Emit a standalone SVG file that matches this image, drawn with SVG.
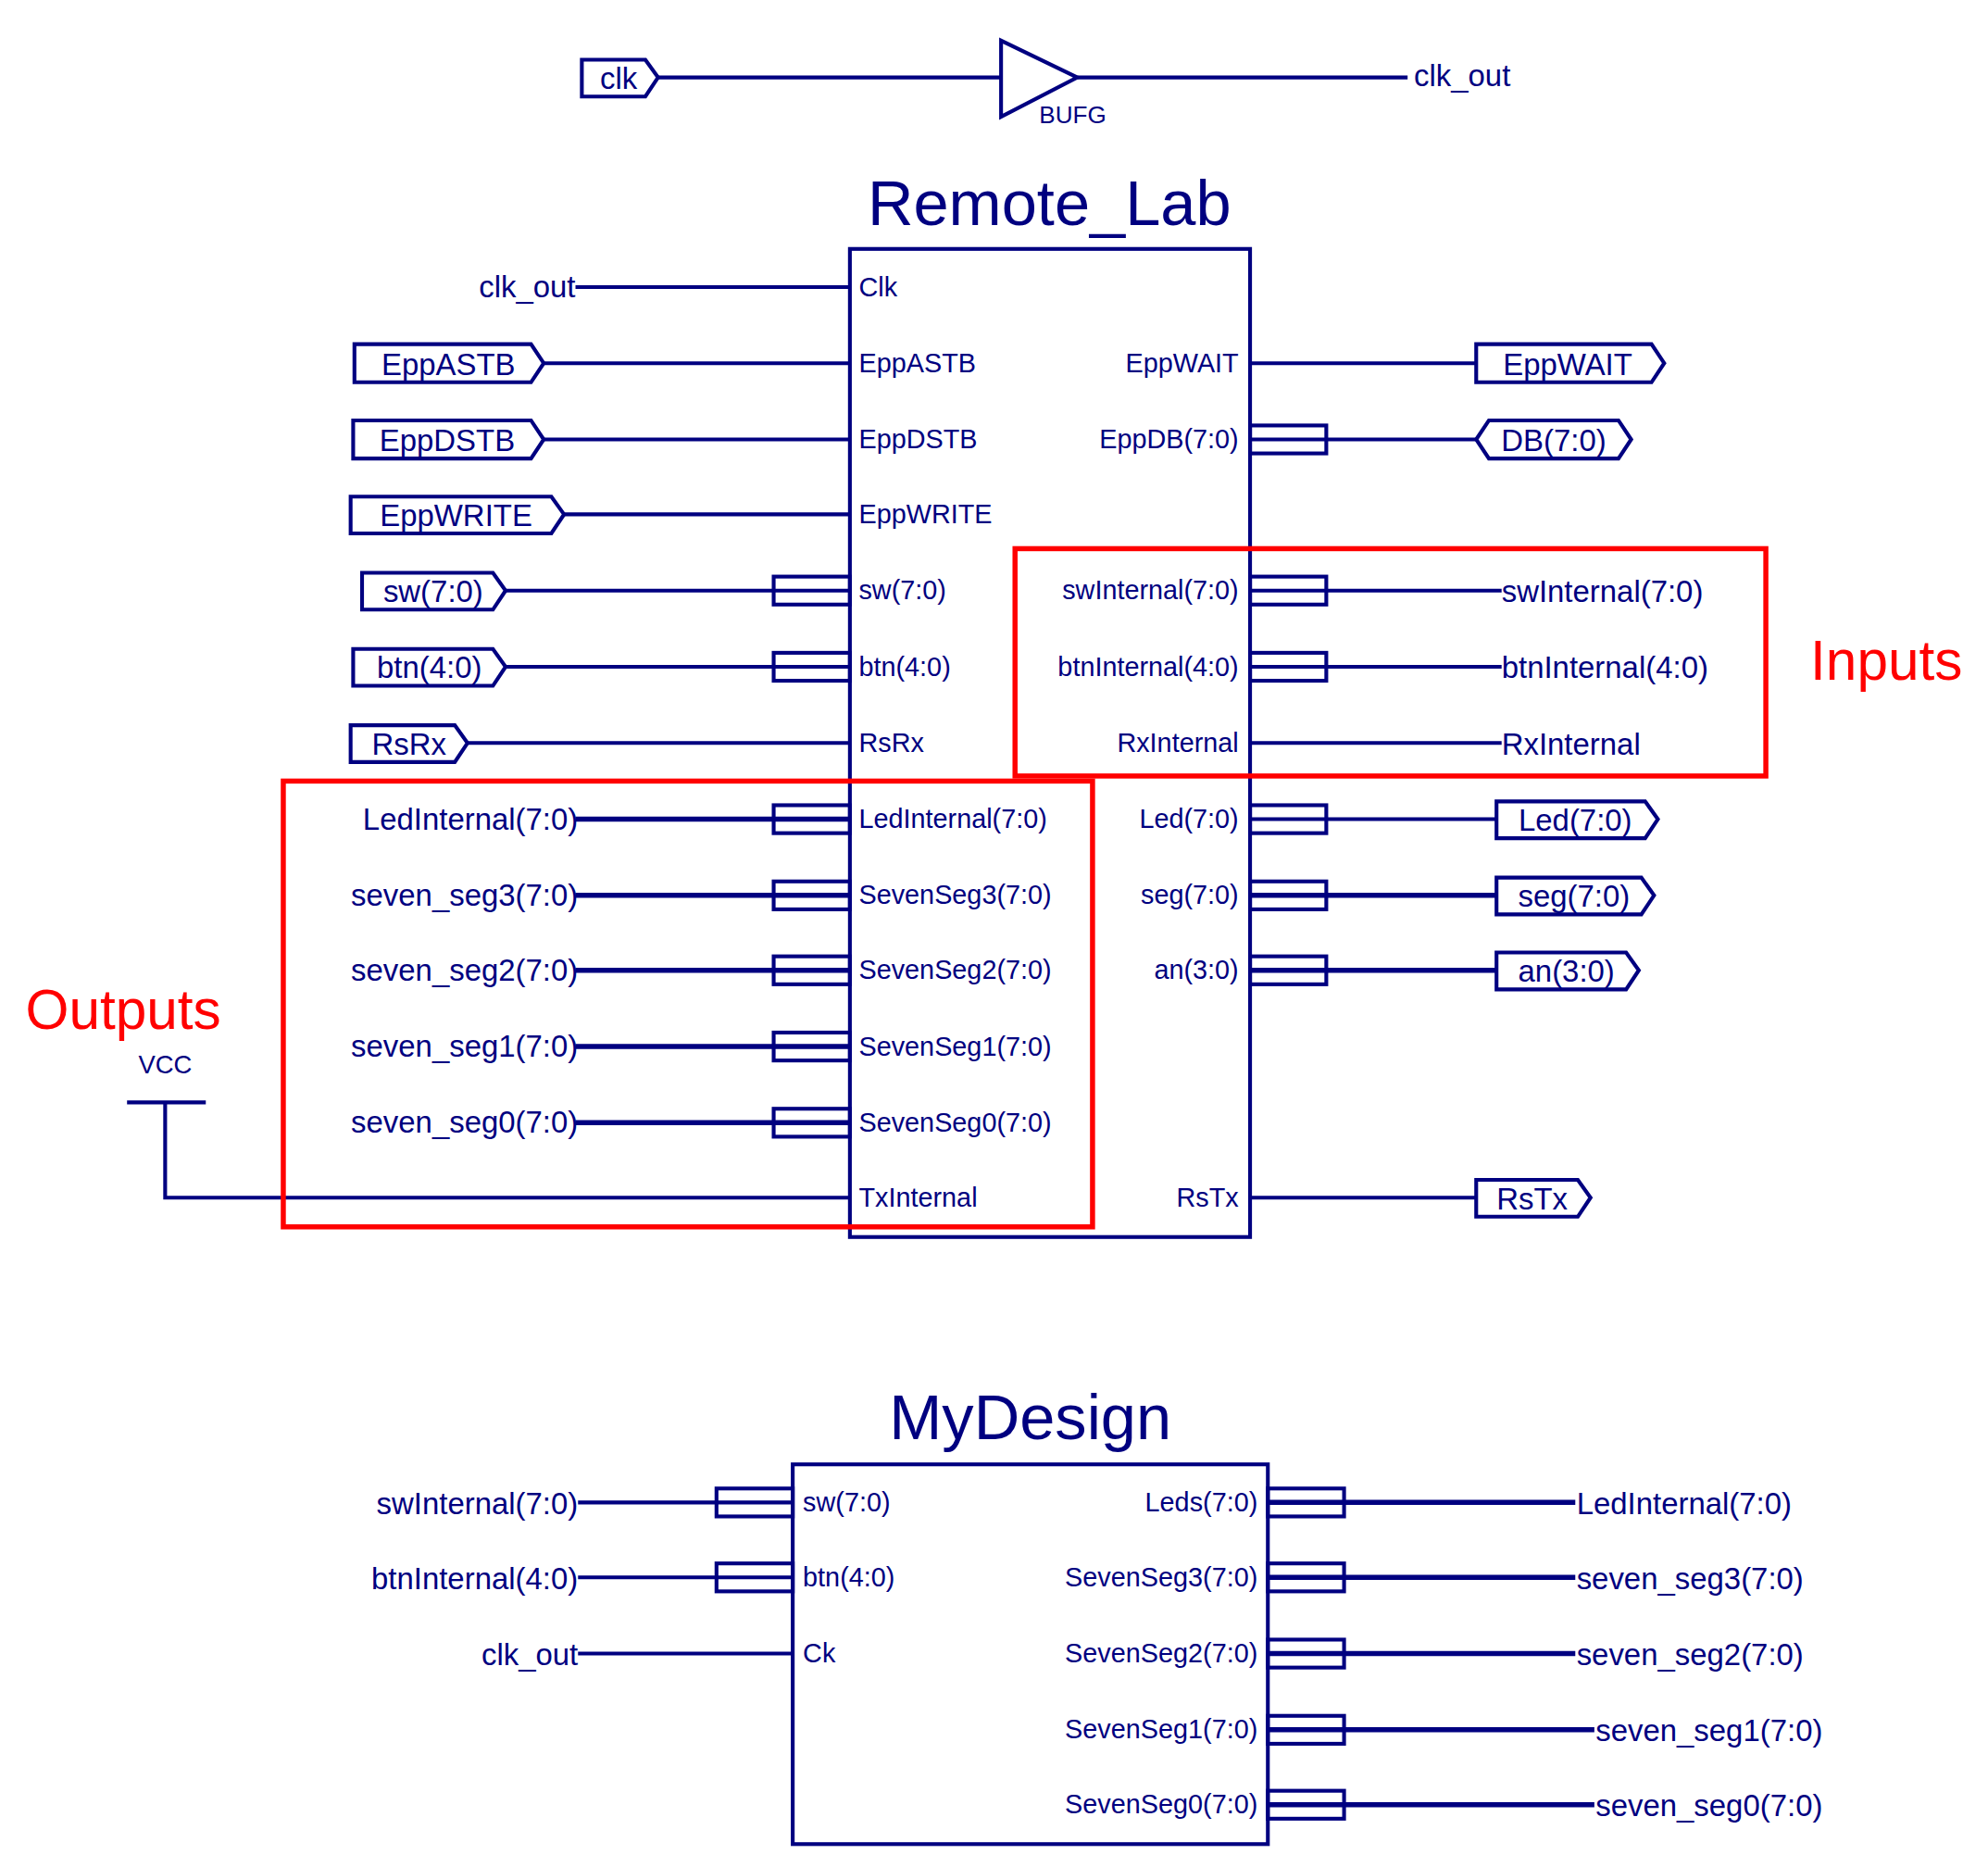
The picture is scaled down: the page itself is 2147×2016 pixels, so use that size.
<svg xmlns="http://www.w3.org/2000/svg" width="2147" height="2016" viewBox="0 0 2147 2016">
<style>
.w{stroke:#000080;stroke-width:3;fill:none}
.b{stroke:#000080;stroke-width:4;fill:none}
.p{stroke:#000080;stroke-width:3;fill:#fff}
.r{stroke:#ff0000;stroke-width:4;fill:none}
text{font-family:"Liberation Sans",Arial,sans-serif;fill:#000080}
.pin{font-size:21px}
.net{font-size:24px}
.ttl{font-size:50px}
.red{font-size:44px;fill:#ff0000}
.e{text-anchor:end}
.m{text-anchor:middle}
</style>
<rect width="2147" height="2016" fill="#fff"/>
<g transform="scale(1.372,1.3714)">
<g id="connectors">
<path class="w" d="M518 61H788M848 61H1108"/>
<path class="w" d="M453 226H669M428 286H669M428 346H669M444 405H669M398 465H669M398 525H669M368 585H669"/>
<path class="b" d="M453 645H669M453 705H669M453 764H669M453 824H669M453 884H669"/>
<path class="w" d="M100 868H162M130 868V943H669"/>
<path class="w" d="M984 286H1162M984 346H1162M984 465H1182M984 525H1182M984 585H1182M984 645H1178M984 943H1162"/>
<path class="b" d="M984 705H1178M984 764H1178"/>
<path class="w" d="M455 1183H624M455 1242H624M455 1302H624"/>
<path class="b" d="M998 1183H1240M998 1242H1240M998 1302H1240M998 1362H1255M998 1421H1255"/>
</g>
<g id="bufg">
<polygon class="p" points="788,32 788,92 848,61"/>
<text x="818" y="97" style="font-size:19px">BUFG</text>
</g>
<g id="clk"><polygon class="p" points="458,47 508,47 518,61 508,76 458,76"/><text class="net m" x="487" y="70">clk</text></g>
<text class="net" x="1113" y="68">clk_out</text>
<g id="remote_lab">
<text class="ttl m" x="826" y="177">Remote_Lab</text>
<rect class="w" x="669" y="196" width="315" height="778"/>
<g class="pin">
<text x="676" y="233">Clk</text><text x="676" y="293">EppASTB</text><text x="676" y="353">EppDSTB</text><text x="676" y="412">EppWRITE</text>
<text x="676" y="472">sw(7:0)</text><text x="676" y="532">btn(4:0)</text><text x="676" y="592">RsRx</text>
<text x="676" y="652">LedInternal(7:0)</text><text x="676" y="712">SevenSeg3(7:0)</text><text x="676" y="771">SevenSeg2(7:0)</text>
<text x="676" y="831">SevenSeg1(7:0)</text><text x="676" y="891">SevenSeg0(7:0)</text><text x="676" y="950">TxInternal</text>
<text class="e" x="975" y="293">EppWAIT</text><text class="e" x="975" y="353">EppDB(7:0)</text><text class="e" x="975" y="472">swInternal(7:0)</text>
<text class="e" x="975" y="532">btnInternal(4:0)</text><text class="e" x="975" y="592">RxInternal</text><text class="e" x="975" y="652">Led(7:0)</text>
<text class="e" x="975" y="712">seg(7:0)</text><text class="e" x="975" y="771">an(3:0)</text><text class="e" x="975" y="950">RsTx</text>
</g>
<g class="w">
<rect x="609" y="454" width="60" height="22"/><rect x="609" y="514" width="60" height="22"/><rect x="609" y="634" width="60" height="22"/>
<rect x="609" y="694" width="60" height="22"/><rect x="609" y="753" width="60" height="22"/><rect x="609" y="813" width="60" height="22"/><rect x="609" y="873" width="60" height="22"/>
<rect x="984" y="335" width="60" height="22"/><rect x="984" y="454" width="60" height="22"/><rect x="984" y="514" width="60" height="22"/>
<rect x="984" y="634" width="60" height="22"/><rect x="984" y="694" width="60" height="22"/><rect x="984" y="753" width="60" height="22"/>
</g>
</g>
<g id="ports_left">
<polygon class="p" points="279,271 418,271 428,286 418,301 279,301"/><text class="net m" x="353" y="295">EppASTB</text>
<polygon class="p" points="278,331 418,331 428,346 418,361 278,361"/><text class="net m" x="352" y="355">EppDSTB</text>
<polygon class="p" points="276,391 434,391 444,405 434,420 276,420"/><text class="net m" x="359" y="414">EppWRITE</text>
<polygon class="p" points="285,451 388,451 398,465 388,480 285,480"/><text class="net m" x="341" y="474">sw(7:0)</text>
<polygon class="p" points="278,511 388,511 398,525 388,540 278,540"/><text class="net m" x="338" y="534">btn(4:0)</text>
<polygon class="p" points="276,571 358,571 368,585 358,600 276,600"/><text class="net m" x="322" y="594">RsRx</text>
<text class="net e" x="453" y="234">clk_out</text>
<text class="net e" x="455" y="653">LedInternal(7:0)</text><text class="net e" x="455" y="713">seven_seg3(7:0)</text>
<text class="net e" x="455" y="772">seven_seg2(7:0)</text><text class="net e" x="455" y="832">seven_seg1(7:0)</text><text class="net e" x="455" y="892">seven_seg0(7:0)</text>
</g>
<g id="ports_right">
<polygon class="p" points="1162,271 1300,271 1310,286 1300,301 1162,301"/><text class="net m" x="1234" y="295">EppWAIT</text>
<polygon class="p" points="1162,346 1172,331 1274,331 1284,346 1274,361 1172,361"/><text class="net m" x="1223" y="355">DB(7:0)</text>
<polygon class="p" points="1178,631 1295,631 1305,645 1295,660 1178,660"/><text class="net m" x="1240" y="654">Led(7:0)</text>
<polygon class="p" points="1178,691 1292,691 1302,705 1292,720 1178,720"/><text class="net m" x="1239" y="714">seg(7:0)</text>
<polygon class="p" points="1178,750 1280,750 1290,764 1280,779 1178,779"/><text class="net m" x="1233" y="773">an(3:0)</text>
<polygon class="p" points="1162,929 1242,929 1252,943 1242,958 1162,958"/><text class="net m" x="1206" y="952">RsTx</text>
<text class="net" x="1182" y="474">swInternal(7:0)</text><text class="net" x="1182" y="534">btnInternal(4:0)</text><text class="net" x="1182" y="594">RxInternal</text>
</g>
<g id="vcc"><text class="m" x="130" y="845" style="font-size:20px">VCC</text></g>
<g id="annotations">
<rect class="r" x="799" y="432" width="591" height="179"/>
<rect class="r" x="223" y="615" width="637" height="351"/>
<text class="red" x="1425" y="535">Inputs</text>
<text class="red" x="20" y="810">Outputs</text>
</g>
<g id="mydesign">
<text class="ttl m" x="811" y="1133">MyDesign</text>
<rect class="w" x="624" y="1153" width="374" height="299"/>
<g class="pin">
<text x="632" y="1190">sw(7:0)</text><text x="632" y="1249">btn(4:0)</text><text x="632" y="1309">Ck</text>
<text class="e" x="990" y="1190">Leds(7:0)</text><text class="e" x="990" y="1249">SevenSeg3(7:0)</text><text class="e" x="990" y="1309">SevenSeg2(7:0)</text>
<text class="e" x="990" y="1369">SevenSeg1(7:0)</text><text class="e" x="990" y="1428">SevenSeg0(7:0)</text>
</g>
<g class="w">
<rect x="564" y="1172" width="60" height="22"/><rect x="564" y="1231" width="60" height="22"/>
<rect x="998" y="1172" width="60" height="22"/><rect x="998" y="1231" width="60" height="22"/><rect x="998" y="1291" width="60" height="22"/>
<rect x="998" y="1351" width="60" height="22"/><rect x="998" y="1410" width="60" height="22"/>
</g>
<text class="net e" x="455" y="1192">swInternal(7:0)</text><text class="net e" x="455" y="1251">btnInternal(4:0)</text><text class="net e" x="455" y="1311">clk_out</text>
<text class="net" x="1241" y="1192">LedInternal(7:0)</text><text class="net" x="1241" y="1251">seven_seg3(7:0)</text><text class="net" x="1241" y="1311">seven_seg2(7:0)</text>
<text class="net" x="1256" y="1371">seven_seg1(7:0)</text><text class="net" x="1256" y="1430">seven_seg0(7:0)</text>
</g>
</g>
</svg>
